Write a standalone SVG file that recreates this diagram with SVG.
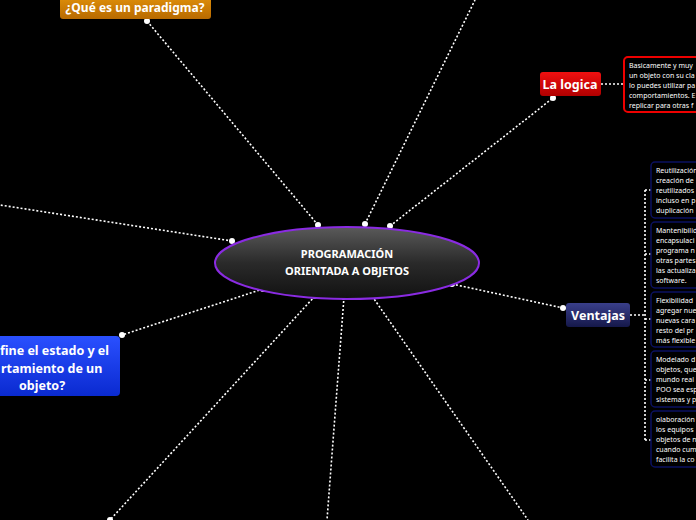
<svg xmlns="http://www.w3.org/2000/svg" width="696" height="520" viewBox="0 0 696 520">
<defs>
<linearGradient id="gC" x1="0" y1="0" x2="0" y2="1"><stop offset="0" stop-color="#5a5a5a"/><stop offset="0.5" stop-color="#2a2a2a"/><stop offset="1" stop-color="#111"/></linearGradient>
<linearGradient id="gR" x1="0" y1="0" x2="0" y2="1"><stop offset="0" stop-color="#f01010"/><stop offset="1" stop-color="#b00000"/></linearGradient>
<linearGradient id="gN" x1="0" y1="0" x2="0" y2="1"><stop offset="0" stop-color="#3a3f8a"/><stop offset="1" stop-color="#15184a"/></linearGradient>
<linearGradient id="gO" x1="0" y1="0" x2="0" y2="1"><stop offset="0" stop-color="#e0900a"/><stop offset="1" stop-color="#b86a00"/></linearGradient>
<linearGradient id="gB" x1="0" y1="0" x2="0" y2="1"><stop offset="0" stop-color="#2a50ff"/><stop offset="1" stop-color="#0a2ad0"/></linearGradient>
</defs>
<style>
.c{fill:none;stroke:#fff;stroke-width:1.6;stroke-dasharray:2 2}
.d{fill:#fff}
.t{font-family:"Noto Sans","Open Sans",sans-serif;font-weight:bold;fill:#fff}
.s{font-family:"Noto Sans","Open Sans",sans-serif;font-size:7px;fill:#fff}
.b{fill:#000;stroke:#0a1060;stroke-width:1.5}
</style>
<rect width="696" height="520" fill="#000"/>
<g id="connectors">
<path class="c" d="M318 225L147 21M365 224L475 0M390 226L553 98M232 241L0 205M263 289L122 335M315 296L110 520M344 297L327 520M372 296L528 520M452 284L563 308M601 84L623 84M630 315H645M645 190V440M645 190H651M645 254H651M645 319H651M645 380H651M645 440H651"/>
<circle class="d" cx="318" cy="225" r="3"/><circle class="d" cx="365" cy="224" r="3"/><circle class="d" cx="390" cy="226" r="3"/><circle class="d" cx="232" cy="241" r="3"/><circle class="d" cx="263" cy="289" r="3"/><circle class="d" cx="315" cy="296" r="3"/><circle class="d" cx="344" cy="297" r="3"/><circle class="d" cx="372" cy="296" r="3"/><circle class="d" cx="452" cy="284" r="3"/>
<circle class="d" cx="147" cy="21" r="3"/><circle class="d" cx="553" cy="98" r="3"/><circle class="d" cx="122" cy="335" r="3"/><circle class="d" cx="563" cy="308" r="3"/><circle class="d" cx="110" cy="520" r="3"/>
</g>
<g id="center">
<ellipse cx="347" cy="263" rx="132" ry="36" fill="url(#gC)" stroke="#8a2be2" stroke-width="2"/>
<text class="t" font-size="11" text-anchor="middle" x="347" y="258">PROGRAMACIÓN</text>
<text class="t" font-size="11" text-anchor="middle" x="347" y="275">ORIENTADA A OBJETOS</text>
</g>
<g id="paradigma"><rect x="60" y="-4" width="151" height="23" rx="3" fill="url(#gO)"/><text class="t" font-size="12" x="135" y="12" text-anchor="middle">¿Qué es un paradigma?</text></g>
<g id="logica"><rect x="540" y="72" width="61" height="24" rx="3" fill="url(#gR)"/><text class="t" font-size="12.5" x="570" y="89" text-anchor="middle">La logica</text></g>
<g id="logica-note"><rect x="624" y="57" width="80" height="55" rx="4" fill="#000" stroke="#e00" stroke-width="2"/>
<text class="s" x="629" y="68">Basicamente y muy</text><text class="s" x="629" y="78">un objeto  con su cla</text><text class="s" x="629" y="88">lo puedes utilizar pa</text><text class="s" x="629" y="98">comportamientos. E</text><text class="s" x="629" y="108">replicar para otras f</text></g>
<g id="estado"><rect x="-10" y="336" width="130" height="60" rx="4" fill="url(#gB)"/>
<text class="t" font-size="12.5" x="0" y="355">fine el estado y el</text><text class="t" font-size="12.5" x="1" y="373">rtamiento de un</text><text class="t" font-size="12.5" x="19" y="390">objeto?</text></g>
<g id="ventajas"><rect x="566" y="303" width="64" height="24" rx="3" fill="url(#gN)"/><text class="t" font-size="12.5" x="598" y="320" text-anchor="middle">Ventajas</text></g>
<g id="v1"><rect class="b" x="651" y="162" width="60" height="56" rx="4"/><text class="s" x="656" y="173">Reutilización</text><text class="s" x="656" y="183">creación de</text><text class="s" x="656" y="193">reutilizados</text><text class="s" x="656" y="203">incluso en p</text><text class="s" x="656" y="213">duplicación</text></g>
<g id="v2"><rect class="b" x="651" y="222" width="60" height="66" rx="4"/><text class="s" x="656" y="233">Mantenibilid</text><text class="s" x="656" y="243">encapsulaci</text><text class="s" x="656" y="253">programa n</text><text class="s" x="656" y="263">otras partes</text><text class="s" x="656" y="273">las actualiza</text><text class="s" x="656" y="283">software.</text></g>
<g id="v3"><rect class="b" x="651" y="292" width="60" height="55" rx="4"/><text class="s" x="656" y="303">Flexibilidad</text><text class="s" x="656" y="313">agregar nue</text><text class="s" x="656" y="323">nuevas cara</text><text class="s" x="656" y="333">resto del pr</text><text class="s" x="656" y="343">más flexible</text></g>
<g id="v4"><rect class="b" x="651" y="351" width="60" height="56" rx="4"/><text class="s" x="656" y="362">Modelado d</text><text class="s" x="656" y="372">objetos, que</text><text class="s" x="656" y="382">mundo real</text><text class="s" x="656" y="392">POO sea esp</text><text class="s" x="656" y="402">sistemas y p</text></g>
<g id="v5"><rect class="b" x="651" y="411" width="60" height="56" rx="4"/><text class="s" x="656" y="422">olaboración</text><text class="s" x="656" y="432">los equipos</text><text class="s" x="656" y="442">objetos de n</text><text class="s" x="656" y="452">cuando cum</text><text class="s" x="656" y="462">facilita la co</text></g>
</svg>
